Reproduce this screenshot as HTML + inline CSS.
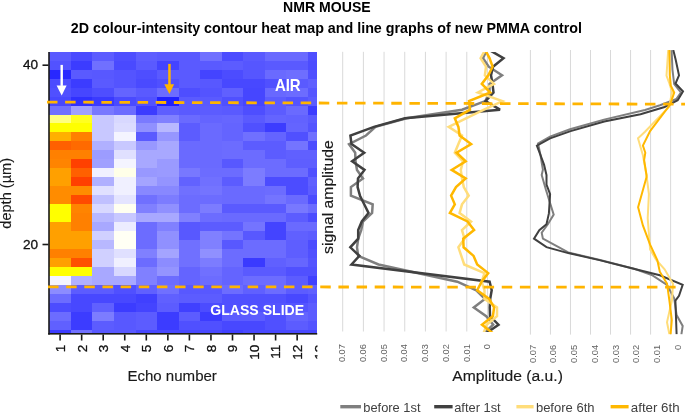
<!DOCTYPE html>
<html><head><meta charset="utf-8"><title>NMR MOUSE</title>
<style>html,body{margin:0;padding:0;background:#fff;}body{width:685px;height:413px;overflow:hidden;}svg{display:block;}</style>
</head><body>
<svg width="685" height="413" viewBox="0 0 685 413" font-family="'Liberation Sans', Arial, sans-serif"><defs><clipPath id="cm"><rect x="330" y="52" width="180" height="280"/></clipPath><clipPath id="cr"><rect x="520" y="50" width="170" height="284.6"/></clipPath></defs><defs><clipPath id="cl"><rect x="0" y="330" width="317.5" height="40"/></clipPath></defs><g shape-rendering="crispEdges"><rect x="49.30" y="52.20" width="22.15" height="9.12" fill="#5a5aff"/><rect x="70.85" y="52.20" width="22.15" height="9.12" fill="#4a4aff"/><rect x="92.40" y="52.20" width="22.15" height="9.12" fill="#5c5cff"/><rect x="113.95" y="52.20" width="22.15" height="9.12" fill="#4e4eff"/><rect x="135.50" y="52.20" width="22.15" height="9.12" fill="#5e5eff"/><rect x="157.05" y="52.20" width="22.15" height="9.12" fill="#5a5aff"/><rect x="178.60" y="52.20" width="22.15" height="9.12" fill="#5a5aff"/><rect x="200.15" y="52.20" width="22.15" height="9.12" fill="#7070ff"/><rect x="221.70" y="52.20" width="22.15" height="9.12" fill="#4c4cff"/><rect x="243.25" y="52.20" width="22.15" height="9.12" fill="#5a5aff"/><rect x="264.80" y="52.20" width="22.15" height="9.12" fill="#6a6aff"/><rect x="286.35" y="52.20" width="22.15" height="9.12" fill="#6a6aff"/><rect x="307.90" y="52.20" width="8.80" height="9.12" fill="#4e4eff"/><rect x="49.30" y="60.72" width="22.15" height="9.57" fill="#5252ff"/><rect x="70.85" y="60.72" width="22.15" height="9.57" fill="#3c3cff"/><rect x="92.40" y="60.72" width="22.15" height="9.57" fill="#7070ff"/><rect x="113.95" y="60.72" width="22.15" height="9.57" fill="#4a4aff"/><rect x="135.50" y="60.72" width="22.15" height="9.57" fill="#5a5aff"/><rect x="157.05" y="60.72" width="22.15" height="9.57" fill="#4444ff"/><rect x="178.60" y="60.72" width="22.15" height="9.57" fill="#5a5aff"/><rect x="200.15" y="60.72" width="22.15" height="9.57" fill="#5a5aff"/><rect x="221.70" y="60.72" width="22.15" height="9.57" fill="#5c5cff"/><rect x="243.25" y="60.72" width="22.15" height="9.57" fill="#5656ff"/><rect x="264.80" y="60.72" width="22.15" height="9.57" fill="#5a5aff"/><rect x="286.35" y="60.72" width="22.15" height="9.57" fill="#5a5aff"/><rect x="307.90" y="60.72" width="8.80" height="9.57" fill="#4c4cff"/><rect x="49.30" y="69.68" width="22.15" height="9.56" fill="#2828ff"/><rect x="70.85" y="69.68" width="22.15" height="9.56" fill="#5a5aff"/><rect x="92.40" y="69.68" width="22.15" height="9.56" fill="#5858ff"/><rect x="113.95" y="69.68" width="22.15" height="9.56" fill="#5454ff"/><rect x="135.50" y="69.68" width="22.15" height="9.56" fill="#4e4eff"/><rect x="157.05" y="69.68" width="22.15" height="9.56" fill="#5a5aff"/><rect x="178.60" y="69.68" width="22.15" height="9.56" fill="#5a5aff"/><rect x="200.15" y="69.68" width="22.15" height="9.56" fill="#4444ff"/><rect x="221.70" y="69.68" width="22.15" height="9.56" fill="#4c4cff"/><rect x="243.25" y="69.68" width="22.15" height="9.56" fill="#5656ff"/><rect x="264.80" y="69.68" width="22.15" height="9.56" fill="#6a6aff"/><rect x="286.35" y="69.68" width="22.15" height="9.56" fill="#6e6eff"/><rect x="307.90" y="69.68" width="8.80" height="9.56" fill="#5050ff"/><rect x="49.30" y="78.65" width="22.15" height="9.57" fill="#4c4cff"/><rect x="70.85" y="78.65" width="22.15" height="9.57" fill="#3c3cff"/><rect x="92.40" y="78.65" width="22.15" height="9.57" fill="#5a5aff"/><rect x="113.95" y="78.65" width="22.15" height="9.57" fill="#5454ff"/><rect x="135.50" y="78.65" width="22.15" height="9.57" fill="#4a4aff"/><rect x="157.05" y="78.65" width="22.15" height="9.57" fill="#5050ff"/><rect x="178.60" y="78.65" width="22.15" height="9.57" fill="#5a5aff"/><rect x="200.15" y="78.65" width="22.15" height="9.57" fill="#5858ff"/><rect x="221.70" y="78.65" width="22.15" height="9.57" fill="#4848ff"/><rect x="243.25" y="78.65" width="22.15" height="9.57" fill="#4848ff"/><rect x="264.80" y="78.65" width="22.15" height="9.57" fill="#5050ff"/><rect x="286.35" y="78.65" width="22.15" height="9.57" fill="#5a5aff"/><rect x="307.90" y="78.65" width="8.80" height="9.57" fill="#6060ff"/><rect x="49.30" y="87.61" width="22.15" height="9.57" fill="#5050ff"/><rect x="70.85" y="87.61" width="22.15" height="9.57" fill="#4646ff"/><rect x="92.40" y="87.61" width="22.15" height="9.57" fill="#4e4eff"/><rect x="113.95" y="87.61" width="22.15" height="9.57" fill="#6464ff"/><rect x="135.50" y="87.61" width="22.15" height="9.57" fill="#5a5aff"/><rect x="157.05" y="87.61" width="22.15" height="9.57" fill="#6c6cff"/><rect x="178.60" y="87.61" width="22.15" height="9.57" fill="#4e4eff"/><rect x="200.15" y="87.61" width="22.15" height="9.57" fill="#5454ff"/><rect x="221.70" y="87.61" width="22.15" height="9.57" fill="#6060ff"/><rect x="243.25" y="87.61" width="22.15" height="9.57" fill="#4646ff"/><rect x="264.80" y="87.61" width="22.15" height="9.57" fill="#6868ff"/><rect x="286.35" y="87.61" width="22.15" height="9.57" fill="#6c6cff"/><rect x="307.90" y="87.61" width="8.80" height="9.57" fill="#5656ff"/><rect x="49.30" y="96.58" width="22.15" height="9.57" fill="#4848ff"/><rect x="70.85" y="96.58" width="22.15" height="9.57" fill="#3030ff"/><rect x="92.40" y="96.58" width="22.15" height="9.57" fill="#3a3aff"/><rect x="113.95" y="96.58" width="22.15" height="9.57" fill="#4a4aff"/><rect x="135.50" y="96.58" width="22.15" height="9.57" fill="#5252ff"/><rect x="157.05" y="96.58" width="22.15" height="9.57" fill="#2020ff"/><rect x="178.60" y="96.58" width="22.15" height="9.57" fill="#5a5aff"/><rect x="200.15" y="96.58" width="22.15" height="9.57" fill="#5a5aff"/><rect x="221.70" y="96.58" width="22.15" height="9.57" fill="#5050ff"/><rect x="243.25" y="96.58" width="22.15" height="9.57" fill="#4646ff"/><rect x="264.80" y="96.58" width="22.15" height="9.57" fill="#5c5cff"/><rect x="286.35" y="96.58" width="22.15" height="9.57" fill="#5454ff"/><rect x="307.90" y="96.58" width="8.80" height="9.57" fill="#5c5cff"/><rect x="49.30" y="105.54" width="22.15" height="9.57" fill="#7070ff"/><rect x="70.85" y="105.54" width="22.15" height="9.57" fill="#a0a0ff"/><rect x="92.40" y="105.54" width="22.15" height="9.57" fill="#7878ff"/><rect x="113.95" y="105.54" width="22.15" height="9.57" fill="#6c6cff"/><rect x="135.50" y="105.54" width="22.15" height="9.57" fill="#3c3cff"/><rect x="157.05" y="105.54" width="22.15" height="9.57" fill="#5e5eff"/><rect x="178.60" y="105.54" width="22.15" height="9.57" fill="#5a5aff"/><rect x="200.15" y="105.54" width="22.15" height="9.57" fill="#5c5cff"/><rect x="221.70" y="105.54" width="22.15" height="9.57" fill="#5a5aff"/><rect x="243.25" y="105.54" width="22.15" height="9.57" fill="#4e4eff"/><rect x="264.80" y="105.54" width="22.15" height="9.57" fill="#5c5cff"/><rect x="286.35" y="105.54" width="22.15" height="9.57" fill="#6a6aff"/><rect x="307.90" y="105.54" width="8.80" height="9.57" fill="#3c3cff"/><rect x="49.30" y="114.51" width="22.15" height="9.56" fill="#ffff80"/><rect x="70.85" y="114.51" width="22.15" height="9.56" fill="#ffff20"/><rect x="92.40" y="114.51" width="22.15" height="9.56" fill="#c8c8ff"/><rect x="113.95" y="114.51" width="22.15" height="9.56" fill="#d8d8ff"/><rect x="135.50" y="114.51" width="22.15" height="9.56" fill="#7a7aff"/><rect x="157.05" y="114.51" width="22.15" height="9.56" fill="#8080ff"/><rect x="178.60" y="114.51" width="22.15" height="9.56" fill="#6a6aff"/><rect x="200.15" y="114.51" width="22.15" height="9.56" fill="#6464ff"/><rect x="221.70" y="114.51" width="22.15" height="9.56" fill="#6666ff"/><rect x="243.25" y="114.51" width="22.15" height="9.56" fill="#5a5aff"/><rect x="264.80" y="114.51" width="22.15" height="9.56" fill="#6464ff"/><rect x="286.35" y="114.51" width="22.15" height="9.56" fill="#6262ff"/><rect x="307.90" y="114.51" width="8.80" height="9.56" fill="#5a5aff"/><rect x="49.30" y="123.47" width="22.15" height="9.57" fill="#ffff00"/><rect x="70.85" y="123.47" width="22.15" height="9.57" fill="#ffff00"/><rect x="92.40" y="123.47" width="22.15" height="9.57" fill="#c8c8ff"/><rect x="113.95" y="123.47" width="22.15" height="9.57" fill="#dcdcff"/><rect x="135.50" y="123.47" width="22.15" height="9.57" fill="#9090ff"/><rect x="157.05" y="123.47" width="22.15" height="9.57" fill="#b8b8ff"/><rect x="178.60" y="123.47" width="22.15" height="9.57" fill="#5c5cff"/><rect x="200.15" y="123.47" width="22.15" height="9.57" fill="#6a6aff"/><rect x="221.70" y="123.47" width="22.15" height="9.57" fill="#6464ff"/><rect x="243.25" y="123.47" width="22.15" height="9.57" fill="#5050ff"/><rect x="264.80" y="123.47" width="22.15" height="9.57" fill="#3c3cff"/><rect x="286.35" y="123.47" width="22.15" height="9.57" fill="#6464ff"/><rect x="307.90" y="123.47" width="8.80" height="9.57" fill="#5454ff"/><rect x="49.30" y="132.44" width="22.15" height="9.56" fill="#ffb000"/><rect x="70.85" y="132.44" width="22.15" height="9.56" fill="#ff8000"/><rect x="92.40" y="132.44" width="22.15" height="9.56" fill="#c8c8ff"/><rect x="113.95" y="132.44" width="22.15" height="9.56" fill="#f4f4ff"/><rect x="135.50" y="132.44" width="22.15" height="9.56" fill="#5a5aff"/><rect x="157.05" y="132.44" width="22.15" height="9.56" fill="#9696ff"/><rect x="178.60" y="132.44" width="22.15" height="9.56" fill="#5c5cff"/><rect x="200.15" y="132.44" width="22.15" height="9.56" fill="#6a6aff"/><rect x="221.70" y="132.44" width="22.15" height="9.56" fill="#6464ff"/><rect x="243.25" y="132.44" width="22.15" height="9.56" fill="#7070ff"/><rect x="264.80" y="132.44" width="22.15" height="9.56" fill="#6464ff"/><rect x="286.35" y="132.44" width="22.15" height="9.56" fill="#5050ff"/><rect x="307.90" y="132.44" width="8.80" height="9.56" fill="#7070ff"/><rect x="49.30" y="141.40" width="22.15" height="9.57" fill="#ff6000"/><rect x="70.85" y="141.40" width="22.15" height="9.57" fill="#ff6a00"/><rect x="92.40" y="141.40" width="22.15" height="9.57" fill="#b0b0ff"/><rect x="113.95" y="141.40" width="22.15" height="9.57" fill="#c8c8ff"/><rect x="135.50" y="141.40" width="22.15" height="9.57" fill="#9898ff"/><rect x="157.05" y="141.40" width="22.15" height="9.57" fill="#a8a8ff"/><rect x="178.60" y="141.40" width="22.15" height="9.57" fill="#6a6aff"/><rect x="200.15" y="141.40" width="22.15" height="9.57" fill="#6a6aff"/><rect x="221.70" y="141.40" width="22.15" height="9.57" fill="#6c6cff"/><rect x="243.25" y="141.40" width="22.15" height="9.57" fill="#5c5cff"/><rect x="264.80" y="141.40" width="22.15" height="9.57" fill="#5c5cff"/><rect x="286.35" y="141.40" width="22.15" height="9.57" fill="#7474ff"/><rect x="307.90" y="141.40" width="8.80" height="9.57" fill="#4c4cff"/><rect x="49.30" y="150.37" width="22.15" height="9.56" fill="#ff8000"/><rect x="70.85" y="150.37" width="22.15" height="9.56" fill="#ff8000"/><rect x="92.40" y="150.37" width="22.15" height="9.56" fill="#9c9cff"/><rect x="113.95" y="150.37" width="22.15" height="9.56" fill="#e0e0ff"/><rect x="135.50" y="150.37" width="22.15" height="9.56" fill="#a8a8ff"/><rect x="157.05" y="150.37" width="22.15" height="9.56" fill="#a8a8ff"/><rect x="178.60" y="150.37" width="22.15" height="9.56" fill="#6a6aff"/><rect x="200.15" y="150.37" width="22.15" height="9.56" fill="#6a6aff"/><rect x="221.70" y="150.37" width="22.15" height="9.56" fill="#6c6cff"/><rect x="243.25" y="150.37" width="22.15" height="9.56" fill="#6c6cff"/><rect x="264.80" y="150.37" width="22.15" height="9.56" fill="#5c5cff"/><rect x="286.35" y="150.37" width="22.15" height="9.56" fill="#6060ff"/><rect x="307.90" y="150.37" width="8.80" height="9.56" fill="#6060ff"/><rect x="49.30" y="159.33" width="22.15" height="9.57" fill="#ff8400"/><rect x="70.85" y="159.33" width="22.15" height="9.57" fill="#ff4000"/><rect x="92.40" y="159.33" width="22.15" height="9.57" fill="#a0a0ff"/><rect x="113.95" y="159.33" width="22.15" height="9.57" fill="#f4f4ff"/><rect x="135.50" y="159.33" width="22.15" height="9.57" fill="#a8a8ff"/><rect x="157.05" y="159.33" width="22.15" height="9.57" fill="#9a9aff"/><rect x="178.60" y="159.33" width="22.15" height="9.57" fill="#6a6aff"/><rect x="200.15" y="159.33" width="22.15" height="9.57" fill="#6a6aff"/><rect x="221.70" y="159.33" width="22.15" height="9.57" fill="#5858ff"/><rect x="243.25" y="159.33" width="22.15" height="9.57" fill="#6c6cff"/><rect x="264.80" y="159.33" width="22.15" height="9.57" fill="#6c6cff"/><rect x="286.35" y="159.33" width="22.15" height="9.57" fill="#5e5eff"/><rect x="307.90" y="159.33" width="8.80" height="9.57" fill="#5e5eff"/><rect x="49.30" y="168.30" width="22.15" height="9.57" fill="#ffa000"/><rect x="70.85" y="168.30" width="22.15" height="9.57" fill="#ff6000"/><rect x="92.40" y="168.30" width="22.15" height="9.57" fill="#f0f0ff"/><rect x="113.95" y="168.30" width="22.15" height="9.57" fill="#ffffe8"/><rect x="135.50" y="168.30" width="22.15" height="9.57" fill="#9898ff"/><rect x="157.05" y="168.30" width="22.15" height="9.57" fill="#9a9aff"/><rect x="178.60" y="168.30" width="22.15" height="9.57" fill="#7878ff"/><rect x="200.15" y="168.30" width="22.15" height="9.57" fill="#6c6cff"/><rect x="221.70" y="168.30" width="22.15" height="9.57" fill="#6c6cff"/><rect x="243.25" y="168.30" width="22.15" height="9.57" fill="#7c7cff"/><rect x="264.80" y="168.30" width="22.15" height="9.57" fill="#6c6cff"/><rect x="286.35" y="168.30" width="22.15" height="9.57" fill="#6c6cff"/><rect x="307.90" y="168.30" width="8.80" height="9.57" fill="#5050ff"/><rect x="49.30" y="177.26" width="22.15" height="9.56" fill="#ffa000"/><rect x="70.85" y="177.26" width="22.15" height="9.56" fill="#ff4000"/><rect x="92.40" y="177.26" width="22.15" height="9.56" fill="#b0b0ff"/><rect x="113.95" y="177.26" width="22.15" height="9.56" fill="#f0f0ff"/><rect x="135.50" y="177.26" width="22.15" height="9.56" fill="#a4a4ff"/><rect x="157.05" y="177.26" width="22.15" height="9.56" fill="#9494ff"/><rect x="178.60" y="177.26" width="22.15" height="9.56" fill="#6262ff"/><rect x="200.15" y="177.26" width="22.15" height="9.56" fill="#7070ff"/><rect x="221.70" y="177.26" width="22.15" height="9.56" fill="#5c5cff"/><rect x="243.25" y="177.26" width="22.15" height="9.56" fill="#7c7cff"/><rect x="264.80" y="177.26" width="22.15" height="9.56" fill="#4c4cff"/><rect x="286.35" y="177.26" width="22.15" height="9.56" fill="#4c4cff"/><rect x="307.90" y="177.26" width="8.80" height="9.56" fill="#6060ff"/><rect x="49.30" y="186.23" width="22.15" height="9.57" fill="#ff8c00"/><rect x="70.85" y="186.23" width="22.15" height="9.57" fill="#ff8c00"/><rect x="92.40" y="186.23" width="22.15" height="9.57" fill="#e0e0ff"/><rect x="113.95" y="186.23" width="22.15" height="9.57" fill="#f0f0ff"/><rect x="135.50" y="186.23" width="22.15" height="9.57" fill="#8888ff"/><rect x="157.05" y="186.23" width="22.15" height="9.57" fill="#8888ff"/><rect x="178.60" y="186.23" width="22.15" height="9.57" fill="#7070ff"/><rect x="200.15" y="186.23" width="22.15" height="9.57" fill="#7474ff"/><rect x="221.70" y="186.23" width="22.15" height="9.57" fill="#6a6aff"/><rect x="243.25" y="186.23" width="22.15" height="9.57" fill="#6a6aff"/><rect x="264.80" y="186.23" width="22.15" height="9.57" fill="#6c6cff"/><rect x="286.35" y="186.23" width="22.15" height="9.57" fill="#4c4cff"/><rect x="307.90" y="186.23" width="8.80" height="9.57" fill="#5c5cff"/><rect x="49.30" y="195.19" width="22.15" height="9.56" fill="#ff8c00"/><rect x="70.85" y="195.19" width="22.15" height="9.56" fill="#ff4a00"/><rect x="92.40" y="195.19" width="22.15" height="9.56" fill="#c0c0ff"/><rect x="113.95" y="195.19" width="22.15" height="9.56" fill="#e4e4ff"/><rect x="135.50" y="195.19" width="22.15" height="9.56" fill="#7070ff"/><rect x="157.05" y="195.19" width="22.15" height="9.56" fill="#7c7cff"/><rect x="178.60" y="195.19" width="22.15" height="9.56" fill="#6c6cff"/><rect x="200.15" y="195.19" width="22.15" height="9.56" fill="#6c6cff"/><rect x="221.70" y="195.19" width="22.15" height="9.56" fill="#6a6aff"/><rect x="243.25" y="195.19" width="22.15" height="9.56" fill="#6a6aff"/><rect x="264.80" y="195.19" width="22.15" height="9.56" fill="#7474ff"/><rect x="286.35" y="195.19" width="22.15" height="9.56" fill="#6a6aff"/><rect x="307.90" y="195.19" width="8.80" height="9.56" fill="#4c4cff"/><rect x="49.30" y="204.16" width="22.15" height="9.57" fill="#ffff00"/><rect x="70.85" y="204.16" width="22.15" height="9.57" fill="#ff8400"/><rect x="92.40" y="204.16" width="22.15" height="9.57" fill="#d8d8ff"/><rect x="113.95" y="204.16" width="22.15" height="9.57" fill="#fffff0"/><rect x="135.50" y="204.16" width="22.15" height="9.57" fill="#8080ff"/><rect x="157.05" y="204.16" width="22.15" height="9.57" fill="#9090ff"/><rect x="178.60" y="204.16" width="22.15" height="9.57" fill="#6c6cff"/><rect x="200.15" y="204.16" width="22.15" height="9.57" fill="#7c7cff"/><rect x="221.70" y="204.16" width="22.15" height="9.57" fill="#5a5aff"/><rect x="243.25" y="204.16" width="22.15" height="9.57" fill="#5a5aff"/><rect x="264.80" y="204.16" width="22.15" height="9.57" fill="#5a5aff"/><rect x="286.35" y="204.16" width="22.15" height="9.57" fill="#7878ff"/><rect x="307.90" y="204.16" width="8.80" height="9.57" fill="#6c6cff"/><rect x="49.30" y="213.12" width="22.15" height="9.56" fill="#ffff00"/><rect x="70.85" y="213.12" width="22.15" height="9.56" fill="#ff8000"/><rect x="92.40" y="213.12" width="22.15" height="9.56" fill="#b8b8ff"/><rect x="113.95" y="213.12" width="22.15" height="9.56" fill="#c8c8ff"/><rect x="135.50" y="213.12" width="22.15" height="9.56" fill="#a8a8ff"/><rect x="157.05" y="213.12" width="22.15" height="9.56" fill="#a8a8ff"/><rect x="178.60" y="213.12" width="22.15" height="9.56" fill="#8080ff"/><rect x="200.15" y="213.12" width="22.15" height="9.56" fill="#6c6cff"/><rect x="221.70" y="213.12" width="22.15" height="9.56" fill="#6a6aff"/><rect x="243.25" y="213.12" width="22.15" height="9.56" fill="#6a6aff"/><rect x="264.80" y="213.12" width="22.15" height="9.56" fill="#6a6aff"/><rect x="286.35" y="213.12" width="22.15" height="9.56" fill="#5c5cff"/><rect x="307.90" y="213.12" width="8.80" height="9.56" fill="#4c4cff"/><rect x="49.30" y="222.09" width="22.15" height="9.57" fill="#ffa000"/><rect x="70.85" y="222.09" width="22.15" height="9.57" fill="#ff8000"/><rect x="92.40" y="222.09" width="22.15" height="9.57" fill="#a8a8ff"/><rect x="113.95" y="222.09" width="22.15" height="9.57" fill="#ececff"/><rect x="135.50" y="222.09" width="22.15" height="9.57" fill="#6c6cff"/><rect x="157.05" y="222.09" width="22.15" height="9.57" fill="#8080ff"/><rect x="178.60" y="222.09" width="22.15" height="9.57" fill="#5858ff"/><rect x="200.15" y="222.09" width="22.15" height="9.57" fill="#5c5cff"/><rect x="221.70" y="222.09" width="22.15" height="9.57" fill="#5c5cff"/><rect x="243.25" y="222.09" width="22.15" height="9.57" fill="#7474ff"/><rect x="264.80" y="222.09" width="22.15" height="9.57" fill="#4444ff"/><rect x="286.35" y="222.09" width="22.15" height="9.57" fill="#6a6aff"/><rect x="307.90" y="222.09" width="8.80" height="9.57" fill="#6a6aff"/><rect x="49.30" y="231.05" width="22.15" height="9.56" fill="#ffa000"/><rect x="70.85" y="231.05" width="22.15" height="9.56" fill="#ffa000"/><rect x="92.40" y="231.05" width="22.15" height="9.56" fill="#d0d0ff"/><rect x="113.95" y="231.05" width="22.15" height="9.56" fill="#fffff4"/><rect x="135.50" y="231.05" width="22.15" height="9.56" fill="#6c6cff"/><rect x="157.05" y="231.05" width="22.15" height="9.56" fill="#9090ff"/><rect x="178.60" y="231.05" width="22.15" height="9.56" fill="#5858ff"/><rect x="200.15" y="231.05" width="22.15" height="9.56" fill="#8080ff"/><rect x="221.70" y="231.05" width="22.15" height="9.56" fill="#7474ff"/><rect x="243.25" y="231.05" width="22.15" height="9.56" fill="#5858ff"/><rect x="264.80" y="231.05" width="22.15" height="9.56" fill="#4444ff"/><rect x="286.35" y="231.05" width="22.15" height="9.56" fill="#6060ff"/><rect x="307.90" y="231.05" width="8.80" height="9.56" fill="#5c5cff"/><rect x="49.30" y="240.02" width="22.15" height="9.56" fill="#ffa000"/><rect x="70.85" y="240.02" width="22.15" height="9.56" fill="#ffa000"/><rect x="92.40" y="240.02" width="22.15" height="9.56" fill="#b8b8ff"/><rect x="113.95" y="240.02" width="22.15" height="9.56" fill="#fffff4"/><rect x="135.50" y="240.02" width="22.15" height="9.56" fill="#6c6cff"/><rect x="157.05" y="240.02" width="22.15" height="9.56" fill="#9090ff"/><rect x="178.60" y="240.02" width="22.15" height="9.56" fill="#7070ff"/><rect x="200.15" y="240.02" width="22.15" height="9.56" fill="#8080ff"/><rect x="221.70" y="240.02" width="22.15" height="9.56" fill="#5858ff"/><rect x="243.25" y="240.02" width="22.15" height="9.56" fill="#6c6cff"/><rect x="264.80" y="240.02" width="22.15" height="9.56" fill="#6c6cff"/><rect x="286.35" y="240.02" width="22.15" height="9.56" fill="#5e5eff"/><rect x="307.90" y="240.02" width="8.80" height="9.56" fill="#4c4cff"/><rect x="49.30" y="248.98" width="22.15" height="9.57" fill="#ff8000"/><rect x="70.85" y="248.98" width="22.15" height="9.57" fill="#ff8000"/><rect x="92.40" y="248.98" width="22.15" height="9.57" fill="#d0d0ff"/><rect x="113.95" y="248.98" width="22.15" height="9.57" fill="#e0e0ff"/><rect x="135.50" y="248.98" width="22.15" height="9.57" fill="#8080ff"/><rect x="157.05" y="248.98" width="22.15" height="9.57" fill="#a4a4ff"/><rect x="178.60" y="248.98" width="22.15" height="9.57" fill="#7070ff"/><rect x="200.15" y="248.98" width="22.15" height="9.57" fill="#9090ff"/><rect x="221.70" y="248.98" width="22.15" height="9.57" fill="#6c6cff"/><rect x="243.25" y="248.98" width="22.15" height="9.57" fill="#6c6cff"/><rect x="264.80" y="248.98" width="22.15" height="9.57" fill="#6c6cff"/><rect x="286.35" y="248.98" width="22.15" height="9.57" fill="#5e5eff"/><rect x="307.90" y="248.98" width="8.80" height="9.57" fill="#5050ff"/><rect x="49.30" y="257.95" width="22.15" height="9.56" fill="#ffa000"/><rect x="70.85" y="257.95" width="22.15" height="9.56" fill="#ff5000"/><rect x="92.40" y="257.95" width="22.15" height="9.56" fill="#d0d0ff"/><rect x="113.95" y="257.95" width="22.15" height="9.56" fill="#f0f0ff"/><rect x="135.50" y="257.95" width="22.15" height="9.56" fill="#6c6cff"/><rect x="157.05" y="257.95" width="22.15" height="9.56" fill="#8c8cff"/><rect x="178.60" y="257.95" width="22.15" height="9.56" fill="#7070ff"/><rect x="200.15" y="257.95" width="22.15" height="9.56" fill="#7c7cff"/><rect x="221.70" y="257.95" width="22.15" height="9.56" fill="#6c6cff"/><rect x="243.25" y="257.95" width="22.15" height="9.56" fill="#3a3aff"/><rect x="264.80" y="257.95" width="22.15" height="9.56" fill="#6060ff"/><rect x="286.35" y="257.95" width="22.15" height="9.56" fill="#6666ff"/><rect x="307.90" y="257.95" width="8.80" height="9.56" fill="#5454ff"/><rect x="49.30" y="266.91" width="22.15" height="9.57" fill="#ffff00"/><rect x="70.85" y="266.91" width="22.15" height="9.57" fill="#ffff00"/><rect x="92.40" y="266.91" width="22.15" height="9.57" fill="#a8a8ff"/><rect x="113.95" y="266.91" width="22.15" height="9.57" fill="#d8d8ff"/><rect x="135.50" y="266.91" width="22.15" height="9.57" fill="#8080ff"/><rect x="157.05" y="266.91" width="22.15" height="9.57" fill="#9494ff"/><rect x="178.60" y="266.91" width="22.15" height="9.57" fill="#6464ff"/><rect x="200.15" y="266.91" width="22.15" height="9.57" fill="#7070ff"/><rect x="221.70" y="266.91" width="22.15" height="9.57" fill="#6464ff"/><rect x="243.25" y="266.91" width="22.15" height="9.57" fill="#5a5aff"/><rect x="264.80" y="266.91" width="22.15" height="9.57" fill="#5a5aff"/><rect x="286.35" y="266.91" width="22.15" height="9.57" fill="#5050ff"/><rect x="307.90" y="266.91" width="8.80" height="9.57" fill="#5050ff"/><rect x="49.30" y="275.88" width="22.15" height="9.56" fill="#f4f4ff"/><rect x="70.85" y="275.88" width="22.15" height="9.56" fill="#b0b0ff"/><rect x="92.40" y="275.88" width="22.15" height="9.56" fill="#a8a8ff"/><rect x="113.95" y="275.88" width="22.15" height="9.56" fill="#a8a8ff"/><rect x="135.50" y="275.88" width="22.15" height="9.56" fill="#8080ff"/><rect x="157.05" y="275.88" width="22.15" height="9.56" fill="#6c6cff"/><rect x="178.60" y="275.88" width="22.15" height="9.56" fill="#6464ff"/><rect x="200.15" y="275.88" width="22.15" height="9.56" fill="#6c6cff"/><rect x="221.70" y="275.88" width="22.15" height="9.56" fill="#6464ff"/><rect x="243.25" y="275.88" width="22.15" height="9.56" fill="#6c6cff"/><rect x="264.80" y="275.88" width="22.15" height="9.56" fill="#6c6cff"/><rect x="286.35" y="275.88" width="22.15" height="9.56" fill="#5c5cff"/><rect x="307.90" y="275.88" width="8.80" height="9.56" fill="#4040ff"/><rect x="49.30" y="284.84" width="22.15" height="9.57" fill="#8c8cff"/><rect x="70.85" y="284.84" width="22.15" height="9.57" fill="#5c5cff"/><rect x="92.40" y="284.84" width="22.15" height="9.57" fill="#5c5cff"/><rect x="113.95" y="284.84" width="22.15" height="9.57" fill="#5050ff"/><rect x="135.50" y="284.84" width="22.15" height="9.57" fill="#6060ff"/><rect x="157.05" y="284.84" width="22.15" height="9.57" fill="#7070ff"/><rect x="178.60" y="284.84" width="22.15" height="9.57" fill="#5858ff"/><rect x="200.15" y="284.84" width="22.15" height="9.57" fill="#5858ff"/><rect x="221.70" y="284.84" width="22.15" height="9.57" fill="#6c6cff"/><rect x="243.25" y="284.84" width="22.15" height="9.57" fill="#6060ff"/><rect x="264.80" y="284.84" width="22.15" height="9.57" fill="#6c6cff"/><rect x="286.35" y="284.84" width="22.15" height="9.57" fill="#5c5cff"/><rect x="307.90" y="284.84" width="8.80" height="9.57" fill="#6060ff"/><rect x="49.30" y="293.81" width="22.15" height="9.56" fill="#6c6cff"/><rect x="70.85" y="293.81" width="22.15" height="9.56" fill="#4848ff"/><rect x="92.40" y="293.81" width="22.15" height="9.56" fill="#4848ff"/><rect x="113.95" y="293.81" width="22.15" height="9.56" fill="#4848ff"/><rect x="135.50" y="293.81" width="22.15" height="9.56" fill="#4040ff"/><rect x="157.05" y="293.81" width="22.15" height="9.56" fill="#6060ff"/><rect x="178.60" y="293.81" width="22.15" height="9.56" fill="#5c5cff"/><rect x="200.15" y="293.81" width="22.15" height="9.56" fill="#5c5cff"/><rect x="221.70" y="293.81" width="22.15" height="9.56" fill="#5050ff"/><rect x="243.25" y="293.81" width="22.15" height="9.56" fill="#5050ff"/><rect x="264.80" y="293.81" width="22.15" height="9.56" fill="#5050ff"/><rect x="286.35" y="293.81" width="22.15" height="9.56" fill="#4848ff"/><rect x="307.90" y="293.81" width="8.80" height="9.56" fill="#5454ff"/><rect x="49.30" y="302.77" width="22.15" height="9.56" fill="#4c4cff"/><rect x="70.85" y="302.77" width="22.15" height="9.56" fill="#4848ff"/><rect x="92.40" y="302.77" width="22.15" height="9.56" fill="#6060ff"/><rect x="113.95" y="302.77" width="22.15" height="9.56" fill="#3c3cff"/><rect x="135.50" y="302.77" width="22.15" height="9.56" fill="#4444ff"/><rect x="157.05" y="302.77" width="22.15" height="9.56" fill="#5c5cff"/><rect x="178.60" y="302.77" width="22.15" height="9.56" fill="#4040ff"/><rect x="200.15" y="302.77" width="22.15" height="9.56" fill="#4c4cff"/><rect x="221.70" y="302.77" width="22.15" height="9.56" fill="#5050ff"/><rect x="243.25" y="302.77" width="22.15" height="9.56" fill="#5050ff"/><rect x="264.80" y="302.77" width="22.15" height="9.56" fill="#5454ff"/><rect x="286.35" y="302.77" width="22.15" height="9.56" fill="#5454ff"/><rect x="307.90" y="302.77" width="8.80" height="9.56" fill="#5c5cff"/><rect x="49.30" y="311.74" width="22.15" height="9.57" fill="#6c6cff"/><rect x="70.85" y="311.74" width="22.15" height="9.57" fill="#3c3cff"/><rect x="92.40" y="311.74" width="22.15" height="9.57" fill="#7c7cff"/><rect x="113.95" y="311.74" width="22.15" height="9.57" fill="#5858ff"/><rect x="135.50" y="311.74" width="22.15" height="9.57" fill="#5c5cff"/><rect x="157.05" y="311.74" width="22.15" height="9.57" fill="#3c3cff"/><rect x="178.60" y="311.74" width="22.15" height="9.57" fill="#5c5cff"/><rect x="200.15" y="311.74" width="22.15" height="9.57" fill="#3c3cff"/><rect x="221.70" y="311.74" width="22.15" height="9.57" fill="#5c5cff"/><rect x="243.25" y="311.74" width="22.15" height="9.57" fill="#5c5cff"/><rect x="264.80" y="311.74" width="22.15" height="9.57" fill="#5050ff"/><rect x="286.35" y="311.74" width="22.15" height="9.57" fill="#6464ff"/><rect x="307.90" y="311.74" width="8.80" height="9.57" fill="#5c5cff"/><rect x="49.30" y="320.70" width="22.15" height="9.56" fill="#6060ff"/><rect x="70.85" y="320.70" width="22.15" height="9.56" fill="#3c3cff"/><rect x="92.40" y="320.70" width="22.15" height="9.56" fill="#5c5cff"/><rect x="113.95" y="320.70" width="22.15" height="9.56" fill="#5858ff"/><rect x="135.50" y="320.70" width="22.15" height="9.56" fill="#5c5cff"/><rect x="157.05" y="320.70" width="22.15" height="9.56" fill="#3c3cff"/><rect x="178.60" y="320.70" width="22.15" height="9.56" fill="#5050ff"/><rect x="200.15" y="320.70" width="22.15" height="9.56" fill="#5050ff"/><rect x="221.70" y="320.70" width="22.15" height="9.56" fill="#4848ff"/><rect x="243.25" y="320.70" width="22.15" height="9.56" fill="#4848ff"/><rect x="264.80" y="320.70" width="22.15" height="9.56" fill="#5050ff"/><rect x="286.35" y="320.70" width="22.15" height="9.56" fill="#5c5cff"/><rect x="307.90" y="320.70" width="8.80" height="9.56" fill="#5454ff"/><rect x="49.30" y="329.67" width="22.15" height="3.93" fill="#3c3cff"/><rect x="70.85" y="329.67" width="22.15" height="3.93" fill="#7070ff"/><rect x="92.40" y="329.67" width="22.15" height="3.93" fill="#5858ff"/><rect x="113.95" y="329.67" width="22.15" height="3.93" fill="#5858ff"/><rect x="135.50" y="329.67" width="22.15" height="3.93" fill="#4848ff"/><rect x="157.05" y="329.67" width="22.15" height="3.93" fill="#4848ff"/><rect x="178.60" y="329.67" width="22.15" height="3.93" fill="#4848ff"/><rect x="200.15" y="329.67" width="22.15" height="3.93" fill="#4848ff"/><rect x="221.70" y="329.67" width="22.15" height="3.93" fill="#4040ff"/><rect x="243.25" y="329.67" width="22.15" height="3.93" fill="#4848ff"/><rect x="264.80" y="329.67" width="22.15" height="3.93" fill="#4848ff"/><rect x="286.35" y="329.67" width="22.15" height="3.93" fill="#4848ff"/><rect x="307.90" y="329.67" width="8.80" height="3.93" fill="#4848ff"/></g><rect x="48.2" y="52" width="1.6" height="282.6" fill="#1a1a1a"/><rect x="48.2" y="333" width="269" height="1.6" fill="#1a1a1a"/><rect x="42.5" y="64.4" width="6" height="1.6" fill="#1a1a1a"/><rect x="42.5" y="243.7" width="6" height="1.6" fill="#1a1a1a"/><rect x="59.30" y="334.5" width="1.6" height="6" fill="#1a1a1a"/><rect x="80.85" y="334.5" width="1.6" height="6" fill="#1a1a1a"/><rect x="102.40" y="334.5" width="1.6" height="6" fill="#1a1a1a"/><rect x="123.95" y="334.5" width="1.6" height="6" fill="#1a1a1a"/><rect x="145.50" y="334.5" width="1.6" height="6" fill="#1a1a1a"/><rect x="167.05" y="334.5" width="1.6" height="6" fill="#1a1a1a"/><rect x="188.60" y="334.5" width="1.6" height="6" fill="#1a1a1a"/><rect x="210.15" y="334.5" width="1.6" height="6" fill="#1a1a1a"/><rect x="231.70" y="334.5" width="1.6" height="6" fill="#1a1a1a"/><rect x="253.25" y="334.5" width="1.6" height="6" fill="#1a1a1a"/><rect x="274.80" y="334.5" width="1.6" height="6" fill="#1a1a1a"/><rect x="296.35" y="334.5" width="1.6" height="6" fill="#1a1a1a"/><text x="38.2" y="68.8" font-size="13.6" text-anchor="end" fill="#111" stroke="#111" stroke-width="0.3">40</text><text x="38.2" y="248.8" font-size="13.6" text-anchor="end" fill="#111" stroke="#111" stroke-width="0.3">20</text><g clip-path="url(#cl)"><text transform="translate(64.95,344.8) rotate(-90)" font-size="13.5" text-anchor="end" fill="#111" stroke="#111" stroke-width="0.3">1</text><text transform="translate(86.50,344.8) rotate(-90)" font-size="13.5" text-anchor="end" fill="#111" stroke="#111" stroke-width="0.3">2</text><text transform="translate(108.05,344.8) rotate(-90)" font-size="13.5" text-anchor="end" fill="#111" stroke="#111" stroke-width="0.3">3</text><text transform="translate(129.60,344.8) rotate(-90)" font-size="13.5" text-anchor="end" fill="#111" stroke="#111" stroke-width="0.3">4</text><text transform="translate(151.15,344.8) rotate(-90)" font-size="13.5" text-anchor="end" fill="#111" stroke="#111" stroke-width="0.3">5</text><text transform="translate(172.70,344.8) rotate(-90)" font-size="13.5" text-anchor="end" fill="#111" stroke="#111" stroke-width="0.3">6</text><text transform="translate(194.25,344.8) rotate(-90)" font-size="13.5" text-anchor="end" fill="#111" stroke="#111" stroke-width="0.3">7</text><text transform="translate(215.80,344.8) rotate(-90)" font-size="13.5" text-anchor="end" fill="#111" stroke="#111" stroke-width="0.3">8</text><text transform="translate(237.35,344.8) rotate(-90)" font-size="13.5" text-anchor="end" fill="#111" stroke="#111" stroke-width="0.3">9</text><text transform="translate(258.90,344.8) rotate(-90)" font-size="13.5" text-anchor="end" fill="#111" stroke="#111" stroke-width="0.3">10</text><text transform="translate(280.45,344.8) rotate(-90)" font-size="13.5" text-anchor="end" fill="#111" stroke="#111" stroke-width="0.3">11</text><text transform="translate(302.00,344.8) rotate(-90)" font-size="13.5" text-anchor="end" fill="#111" stroke="#111" stroke-width="0.3">12</text><text transform="translate(323.55,344.8) rotate(-90)" font-size="13.5" text-anchor="end" fill="#111" stroke="#111" stroke-width="0.3">13</text></g><text x="127.4" y="380.7" font-size="14.9" stroke="#1a1a1a" stroke-width="0.15" textLength="89.5" lengthAdjust="spacingAndGlyphs" fill="#1a1a1a">Echo number</text><text transform="translate(11.1,228.7) rotate(-90)" font-size="13.9" stroke="#1a1a1a" stroke-width="0.15" textLength="70.7" lengthAdjust="spacingAndGlyphs" fill="#1a1a1a">depth (µm)</text><text transform="translate(333.2,253.9) rotate(-90)" font-size="14.9" stroke="#1a1a1a" stroke-width="0.15" textLength="113.6" lengthAdjust="spacingAndGlyphs" fill="#1a1a1a">signal amplitude</text><text x="452.3" y="380.6" font-size="14.9" stroke="#1a1a1a" stroke-width="0.15" textLength="110.6" lengthAdjust="spacingAndGlyphs" fill="#1a1a1a">Amplitude (a.u.)</text><text x="283.1" y="11.6" font-size="14.9" font-weight="bold" textLength="87.6" lengthAdjust="spacingAndGlyphs" fill="#000">NMR MOUSE</text><text x="70.8" y="32.8" font-size="14.7" font-weight="bold" textLength="511.2" lengthAdjust="spacingAndGlyphs" fill="#000">2D colour-intensity contour heat map and line graphs of new PMMA control</text><text x="274.9" y="90.7" font-size="16.3" font-weight="bold" textLength="25.8" lengthAdjust="spacingAndGlyphs" fill="#fff">AIR</text><text x="210.2" y="315.1" font-size="15.4" font-weight="bold" textLength="94" lengthAdjust="spacingAndGlyphs" fill="#fff">GLASS SLIDE</text><rect x="60.5" y="64.9" width="2.4" height="21" fill="#fff"/><polygon points="56.6,85.4 66.6,85.4 61.7,95.6" fill="#fff"/><rect x="168.2" y="63.9" width="2.5" height="21" fill="#ffb400"/><polygon points="164.3,84.2 174.1,84.2 169.4,94" fill="#ffb400"/><rect x="342.20" y="51.8" width="1" height="279.7" fill="#d9d9d9"/><rect x="362.88" y="51.8" width="1" height="279.7" fill="#d9d9d9"/><rect x="383.56" y="51.8" width="1" height="279.7" fill="#d9d9d9"/><rect x="404.24" y="51.8" width="1" height="279.7" fill="#d9d9d9"/><rect x="424.92" y="51.8" width="1" height="279.7" fill="#d9d9d9"/><rect x="445.60" y="51.8" width="1" height="279.7" fill="#d9d9d9"/><rect x="466.28" y="51.8" width="1" height="279.7" fill="#d9d9d9"/><rect x="486.96" y="51.8" width="1" height="279.7" fill="#d9d9d9"/><rect x="529.90" y="50" width="1" height="284.6" fill="#d9d9d9"/><rect x="549.93" y="50" width="1" height="284.6" fill="#d9d9d9"/><rect x="569.96" y="50" width="1" height="284.6" fill="#d9d9d9"/><rect x="589.99" y="50" width="1" height="284.6" fill="#d9d9d9"/><rect x="610.02" y="50" width="1" height="284.6" fill="#d9d9d9"/><rect x="630.05" y="50" width="1" height="284.6" fill="#d9d9d9"/><rect x="650.08" y="50" width="1" height="284.6" fill="#d9d9d9"/><rect x="670.11" y="50" width="1" height="284.6" fill="#d9d9d9"/><text transform="translate(345.10,344.2) rotate(-90)" font-size="9.2" text-anchor="end" fill="#626262">0.07</text><text transform="translate(365.87,344.2) rotate(-90)" font-size="9.2" text-anchor="end" fill="#626262">0.06</text><text transform="translate(386.64,344.2) rotate(-90)" font-size="9.2" text-anchor="end" fill="#626262">0.05</text><text transform="translate(407.41,344.2) rotate(-90)" font-size="9.2" text-anchor="end" fill="#626262">0.04</text><text transform="translate(428.18,344.2) rotate(-90)" font-size="9.2" text-anchor="end" fill="#626262">0.03</text><text transform="translate(448.95,344.2) rotate(-90)" font-size="9.2" text-anchor="end" fill="#626262">0.02</text><text transform="translate(469.72,344.2) rotate(-90)" font-size="9.2" text-anchor="end" fill="#626262">0.01</text><text transform="translate(490.49,344.2) rotate(-90)" font-size="9.2" text-anchor="end" fill="#626262">0</text><text transform="translate(535.70,344.8) rotate(-90)" font-size="9.3" text-anchor="end" fill="#626262">0.07</text><text transform="translate(556.41,344.8) rotate(-90)" font-size="9.3" text-anchor="end" fill="#626262">0.06</text><text transform="translate(577.12,344.8) rotate(-90)" font-size="9.3" text-anchor="end" fill="#626262">0.05</text><text transform="translate(597.83,344.8) rotate(-90)" font-size="9.3" text-anchor="end" fill="#626262">0.04</text><text transform="translate(618.54,344.8) rotate(-90)" font-size="9.3" text-anchor="end" fill="#626262">0.03</text><text transform="translate(639.25,344.8) rotate(-90)" font-size="9.3" text-anchor="end" fill="#626262">0.02</text><text transform="translate(659.96,344.8) rotate(-90)" font-size="9.3" text-anchor="end" fill="#626262">0.01</text><text transform="translate(680.67,344.8) rotate(-90)" font-size="9.3" text-anchor="end" fill="#626262">0</text><g clip-path="url(#cm)"><polyline points="487.0,49.5 483.0,58.1 488.7,66.7 502.0,75.3 489.5,83.9 489.5,92.5 485.3,101.1 462.0,109.7 406.5,118.3 375.5,126.9 366.0,135.5 349.0,144.1 355.2,152.7 355.5,161.3 357.0,169.9 363.0,178.5 350.9,187.1 350.9,195.7 372.7,204.3 372.1,212.9 363.0,221.5 361.2,230.1 358.2,238.7 357.0,247.3 358.2,255.9 378.5,264.5 457.3,281.7 476.3,290.3 484.9,298.9 473.8,307.5 486.2,316.1 493.2,324.7 484.0,333.3" fill="none" stroke="#7f7f7f" stroke-width="2.5" stroke-linejoin="miter" stroke-miterlimit="3"/><polyline points="488.4,49.5 503.5,58.1 493.0,66.7 491.0,75.3 492.5,83.9 493.5,92.5 485.5,101.1 500.0,109.7 405.0,118.3 374.0,126.9 350.4,135.5 351.5,144.1 364.2,152.7 352.1,161.3 364.5,169.9 358.0,178.5 357.6,187.1 360.0,195.7 364.2,204.3 368.5,212.9 361.8,221.5 358.2,230.1 358.2,238.7 350.3,247.3 359.4,255.9 351.5,264.5 489.6,281.7 491.7,290.3 490.2,298.9 489.7,307.5 490.0,316.1 498.5,324.7 486.0,333.3" fill="none" stroke="#404040" stroke-width="2.5" stroke-linejoin="miter" stroke-miterlimit="3"/><polyline points="485.5,49.5 480.6,58.1 486.0,66.7 484.9,75.3 494.0,83.9 477.9,92.5 502.5,101.1 484.0,109.7 466.0,118.3 448.7,126.9 462.0,135.5 458.4,144.1 454.8,152.7 463.0,161.3 460.8,169.9 462.0,178.5 463.8,187.1 468.7,195.7 462.0,204.3 459.6,212.9 471.1,221.5 462.0,230.1 464.5,238.7 458.4,247.3 461.3,255.9 464.2,264.5 484.5,273.1 481.6,281.7 484.5,290.3 484.4,298.9 497.0,307.5 497.0,316.1 486.6,324.7 483.5,333.3" fill="none" stroke="#ffdd7a" stroke-width="2.5" stroke-linejoin="miter" stroke-miterlimit="3"/><polyline points="485.0,49.5 489.5,58.1 492.6,66.7 488.3,75.3 481.8,83.9 490.3,92.5 469.0,101.1 470.0,109.7 454.8,118.3 458.4,126.9 459.6,135.5 471.1,144.1 456.6,152.7 465.7,161.3 451.7,169.9 465.7,178.5 456.0,187.1 451.1,195.7 454.8,204.3 449.9,212.9 467.5,221.5 474.1,230.1 463.2,238.7 463.6,247.3 473.6,255.9 477.2,264.5 488.2,273.1 481.6,281.7 477.2,290.3 489.2,298.9 494.1,307.5 492.9,316.1 482.0,324.7 493.0,333.3" fill="none" stroke="#ffb800" stroke-width="2.5" stroke-linejoin="miter" stroke-miterlimit="3"/></g><g clip-path="url(#cr)"><polyline points="671.6,50.1 672.5,70.0 674.2,84.0 680.9,92.5 676.5,98.9 660.0,105.2 645.0,110.0 604.0,119.6 570.0,129.2 550.0,136.6 538.0,143.4 540.5,155.0 541.7,162.5 542.9,169.7 541.7,175.0 546.0,190.0 553.7,214.6 548.0,224.0 541.7,232.7 542.9,238.7 558.6,247.1 568.2,252.4 600.0,260.0 635.0,269.0 652.5,275.3 667.0,284.9 674.2,298.2 676.6,315.1 682.7,325.9 681.4,334.3" fill="none" stroke="#7f7f7f" stroke-width="2.0" stroke-linejoin="miter" stroke-miterlimit="3"/><polyline points="673.3,50.1 675.8,60.3 679.0,75.3 675.5,83.5 683.0,91.5 677.7,100.2 664.6,107.0 640.5,114.3 604.3,121.5 570.6,131.1 550.1,138.4 536.9,145.6 540.5,155.2 544.1,164.9 546.5,175.0 546.5,184.5 550.1,194.1 548.9,213.4 546.5,224.2 539.3,230.2 534.0,238.7 546.5,247.1 568.2,253.1 599.5,260.1 635.7,269.3 659.8,275.3 682.7,284.9 679.0,295.8 675.4,300.6 676.6,334.3" fill="none" stroke="#404040" stroke-width="2.0" stroke-linejoin="miter" stroke-miterlimit="3"/><polyline points="668.2,50.1 666.5,75.5 669.0,82.3 672.0,92.0 669.2,106.8 645.0,131.7 640.5,136.0 638.0,138.4 642.9,155.2 646.5,175.0 648.9,194.1 647.7,218.2 650.1,249.5 656.1,259.6 664.6,269.3 673.0,283.7 672.0,300.0 667.0,322.3 669.4,334.3" fill="none" stroke="#ffdd7a" stroke-width="2.0" stroke-linejoin="miter" stroke-miterlimit="3"/><polyline points="669.4,50.1 669.8,75.3 670.8,85.7 674.2,92.5 670.8,102.6 669.8,105.0 650.1,131.1 642.9,145.6 645.3,152.8 644.1,160.0 646.5,175.0 646.5,177.2 638.1,207.3 642.9,225.4 650.1,244.7 657.3,260.1 659.8,271.7 667.0,283.7 669.4,300.6 671.8,319.9 670.6,334.3" fill="none" stroke="#ffb800" stroke-width="2.0" stroke-linejoin="miter" stroke-miterlimit="3"/></g><line x1="47" y1="102.1" x2="685" y2="104.2" stroke="#ffb400" stroke-width="2.8" stroke-dasharray="10.5 7.62"/><line x1="48" y1="286.8" x2="676" y2="287.2" stroke="#ffb400" stroke-width="2.8" stroke-dasharray="10.5 7.65"/><line x1="340.3" y1="406.7" x2="361.0" y2="406.7" stroke="#7f7f7f" stroke-width="3.4" stroke-linecap="butt"/><text x="363.3" y="411.5" font-size="13" textLength="57.2" lengthAdjust="spacingAndGlyphs" fill="#404040">before 1st</text><line x1="434.2" y1="406.7" x2="452.6" y2="406.7" stroke="#404040" stroke-width="3.4" stroke-linecap="butt"/><text x="454.2" y="411.5" font-size="13" textLength="46.5" lengthAdjust="spacingAndGlyphs" fill="#404040">after 1st</text><line x1="516.4" y1="406.7" x2="533.6" y2="406.7" stroke="#ffdd7a" stroke-width="3.4" stroke-linecap="butt"/><text x="535.9" y="411.5" font-size="13" textLength="58.6" lengthAdjust="spacingAndGlyphs" fill="#404040">before 6th</text><line x1="610.6" y1="406.7" x2="628.6" y2="406.7" stroke="#ffb800" stroke-width="3.4" stroke-linecap="butt"/><text x="630.8" y="411.5" font-size="13" textLength="48.8" lengthAdjust="spacingAndGlyphs" fill="#404040">after 6th</text></svg>
</body></html>
